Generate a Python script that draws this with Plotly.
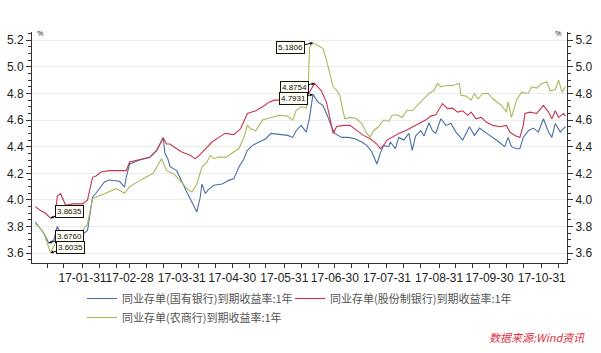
import plotly.graph_objects as go

# ---------------- data ----------------
blue_dates = ["2017-01-03","2017-01-05","2017-01-08","2017-01-11","2017-01-14","2017-01-16","2017-01-17","2017-01-19",
              "2017-01-25","2017-01-31","2017-02-03","2017-02-06","2017-02-08","2017-02-13","2017-02-16","2017-02-22",
              "2017-02-25","2017-02-26","2017-02-28","2017-03-06","2017-03-12","2017-03-16","2017-03-20","2017-03-21",
              "2017-03-23","2017-03-24","2017-03-28","2017-03-31","2017-04-03","2017-04-06","2017-04-09","2017-04-11",
              "2017-04-12","2017-04-14","2017-04-16","2017-04-19","2017-04-24","2017-04-28","2017-05-01","2017-05-04",
              "2017-05-07","2017-05-09","2017-05-12","2017-05-16","2017-05-20","2017-05-23","2017-05-28","2017-06-02",
              "2017-06-05","2017-06-07","2017-06-10","2017-06-13","2017-06-15","2017-06-17","2017-06-20","2017-06-23",
              "2017-06-26","2017-06-28","2017-06-30","2017-07-04","2017-07-08","2017-07-12","2017-07-16","2017-07-19",
              "2017-07-22","2017-07-25","2017-07-27","2017-07-29","2017-08-01","2017-08-02","2017-08-05","2017-08-07",
              "2017-08-10","2017-08-13","2017-08-15","2017-08-17","2017-08-20","2017-08-22","2017-08-25","2017-08-27",
              "2017-08-29","2017-09-01","2017-09-04","2017-09-07","2017-09-10","2017-09-14","2017-09-18","2017-09-21",
              "2017-09-24","2017-09-27","2017-09-30","2017-10-04","2017-10-09","2017-10-11","2017-10-13","2017-10-16",
              "2017-10-18","2017-10-20","2017-10-23","2017-10-26","2017-10-29","2017-11-01","2017-11-04","2017-11-06",
              "2017-11-08","2017-11-11","2017-11-13","2017-11-14"]
blue_vals = [3.834,3.80,3.75,3.676,3.70,3.80,3.78,3.73,
             3.74,3.74,3.77,4.02,4.05,4.135,4.15,4.14,
             4.097,4.17,4.27,4.30,4.32,4.37,4.47,4.35,
             4.30,4.25,4.22,4.135,4.06,3.985,3.91,4.02,
             4.12,4.047,4.08,4.11,4.12,4.147,4.16,4.247,
             4.31,4.373,4.41,4.435,4.46,4.50,4.49,4.485,
             4.47,4.52,4.56,4.51,4.62,4.7931,4.735,4.71,
             4.62,4.55,4.50,4.47,4.47,4.46,4.435,4.41,
             4.36,4.27,4.35,4.41,4.40,4.435,4.385,4.47,
             4.45,4.50,4.373,4.48,4.52,4.48,4.58,4.52,
             4.50,4.61,4.56,4.575,4.51,4.45,4.55,4.485,
             4.54,4.51,4.485,4.45,4.40,4.47,4.40,4.385,
             4.385,4.47,4.52,4.54,4.51,4.61,4.51,4.47,
             4.574,4.51,4.536,4.55]

red_dates = ["2017-01-03","2017-01-06","2017-01-09","2017-01-12","2017-01-15","2017-01-16","2017-01-18","2017-01-21",
             "2017-01-25","2017-01-31","2017-02-03","2017-02-06","2017-02-08","2017-02-11","2017-02-16","2017-02-26",
             "2017-02-28","2017-03-06","2017-03-12","2017-03-16","2017-03-20","2017-03-22","2017-03-24","2017-03-28",
             "2017-03-31","2017-04-05","2017-04-08","2017-04-10","2017-04-14","2017-04-18","2017-04-22","2017-04-26",
             "2017-05-01","2017-05-05","2017-05-09","2017-05-14","2017-05-18","2017-05-22","2017-05-25","2017-05-28",
             "2017-06-02","2017-06-07","2017-06-13","2017-06-18","2017-06-22","2017-06-25","2017-06-27","2017-06-29",
             "2017-07-01","2017-07-05","2017-07-09","2017-07-13","2017-07-17","2017-07-21","2017-07-25","2017-07-27",
             "2017-07-29","2017-07-31","2017-08-03","2017-08-07","2017-08-11","2017-08-15","2017-08-19","2017-08-23",
             "2017-08-26","2017-08-29","2017-09-02","2017-09-05","2017-09-08","2017-09-11","2017-09-14","2017-09-17",
             "2017-09-19","2017-09-22","2017-09-25","2017-09-28","2017-10-02","2017-10-06","2017-10-10","2017-10-12",
             "2017-10-15","2017-10-18","2017-10-20","2017-10-21","2017-10-24","2017-10-28","2017-11-01","2017-11-04",
             "2017-11-06","2017-11-08","2017-11-10","2017-11-13","2017-11-14"]
red_vals = [3.95,3.92,3.90,3.8635,3.88,4.03,4.047,3.96,
            3.97,3.97,4.00,4.17,4.18,4.21,4.22,4.22,
            4.285,4.30,4.32,4.37,4.465,4.42,4.42,4.385,
            4.36,4.335,4.31,4.33,4.385,4.435,4.47,4.50,
            4.49,4.535,4.65,4.67,4.70,4.735,4.75,4.75,
            4.74,4.76,4.77,4.8754,4.82,4.735,4.62,4.50,
            4.55,4.56,4.56,4.52,4.485,4.46,4.42,4.385,
            4.41,4.45,4.47,4.50,4.52,4.55,4.575,4.60,
            4.63,4.64,4.724,4.686,4.69,4.66,4.67,4.636,
            4.66,4.61,4.62,4.585,4.56,4.55,4.56,4.51,
            4.485,4.47,4.56,4.65,4.66,4.65,4.71,4.66,
            4.61,4.67,4.62,4.65,4.63]

green_dates = ["2017-01-03","2017-01-05","2017-01-08","2017-01-10","2017-01-12","2017-01-16","2017-01-19","2017-01-25",
               "2017-01-31","2017-02-03","2017-02-06","2017-02-08","2017-02-14","2017-02-20","2017-02-25","2017-02-28",
               "2017-03-08","2017-03-14","2017-03-19","2017-03-22","2017-03-26","2017-03-30","2017-04-03","2017-04-06",
               "2017-04-09","2017-04-12","2017-04-15","2017-04-17","2017-04-19","2017-04-22","2017-04-26","2017-04-30",
               "2017-05-04","2017-05-07","2017-05-09","2017-05-11","2017-05-14","2017-05-18","2017-05-23","2017-05-28",
               "2017-06-02","2017-06-05","2017-06-07","2017-06-10","2017-06-13","2017-06-14","2017-06-15","2017-06-17",
               "2017-06-20","2017-06-23","2017-06-25","2017-06-27","2017-06-29","2017-07-01","2017-07-03","2017-07-05",
               "2017-07-06","2017-07-09","2017-07-13","2017-07-16","2017-07-19","2017-07-21","2017-07-23","2017-07-26",
               "2017-07-29","2017-08-01","2017-08-03","2017-08-06","2017-08-09","2017-08-12","2017-08-15","2017-08-18",
               "2017-08-22","2017-08-25","2017-08-28","2017-08-30","2017-09-01","2017-09-04","2017-09-08","2017-09-12",
               "2017-09-13","2017-09-16","2017-09-19","2017-09-21","2017-09-23","2017-09-26","2017-09-29","2017-10-02",
               "2017-10-07","2017-10-10","2017-10-11","2017-10-13","2017-10-16","2017-10-19","2017-10-23","2017-10-25",
               "2017-10-28","2017-10-31","2017-11-03","2017-11-05","2017-11-08","2017-11-10","2017-11-12","2017-11-14"]
green_vals = [3.82,3.80,3.75,3.68,3.6035,3.70,3.74,3.75,
              3.77,3.82,4.01,4.02,4.05,4.085,4.05,4.10,
              4.16,4.20,4.31,4.22,4.197,4.147,4.085,4.06,
              4.12,4.247,4.285,4.335,4.31,4.323,4.32,4.35,
              4.386,4.473,4.56,4.535,4.52,4.60,4.62,4.636,
              4.63,4.60,4.674,4.70,4.69,4.77,5.15,5.1806,
              5.16,5.137,5.05,4.95,4.85,4.824,4.786,4.66,
              4.61,4.62,4.61,4.574,4.50,4.473,4.52,4.55,
              4.60,4.59,4.636,4.64,4.62,4.674,4.67,4.71,
              4.76,4.80,4.824,4.875,4.85,4.86,4.86,4.875,
              4.786,4.78,4.75,4.80,4.76,4.80,4.80,4.76,
              4.71,4.66,4.736,4.62,4.75,4.81,4.80,4.85,
              4.84,4.875,4.886,4.82,4.83,4.90,4.81,4.85]

series_names = ["同业存单(国有银行)到期收益率:1年",
                "同业存单(股份制银行)到期收益率:1年",
                "同业存单(农商行)到期收益率:1年"]
series_colors = ["#4a70a8", "#c8344e", "#a9b95a"]

x_label_dates = ["2017-01-31","2017-02-28","2017-03-31","2017-04-30","2017-05-31",
                 "2017-06-30","2017-07-31","2017-08-31","2017-09-30","2017-10-31"]
x_label_text = ["17-01-31","17-02-28","17-03-31","17-04-30","17-05-31",
                "17-06-30","17-07-31","17-08-31","17-09-30","17-10-31"]
x_minor_dates = [f"2017-{m:02d}-{d}" for m in range(1, 12) for d in (10, 20)]
y_tick_vals = [3.6, 3.8, 4.0, 4.2, 4.4, 4.6, 4.8, 5.0, 5.2]
y_tick_text = ["3.6", "3.8", "4.0", "4.2", "4.4", "4.6", "4.8", "5.0", "5.2"]

# annotated extremes: (date, value, label, box offset x, box offset y)
marks = [("2017-06-17", 5.1806, "5.1806", -22, 5),
         ("2017-06-18", 4.8754, "4.8754", -20, 4),
         ("2017-06-17", 4.7931, "4.7931", -19, 4),
         ("2017-01-12", 3.8635, "3.8635", 19, -7),
         ("2017-01-11", 3.6760, "3.6760", 21, -7),
         ("2017-01-12", 3.6035, "3.6035", 20, -5)]

# combined tick list: labelled month-ends plus unlabelled 10th/20th ticks
all_ticks = sorted([(d, t) for d, t in zip(x_label_dates, x_label_text)] +
                   [(d, "") for d in x_minor_dates])
tick_vals = [d for d, _ in all_ticks]
tick_text = [t for _, t in all_ticks]

# ---------------- figure ----------------
L, R, T, B, W, H = 32, 34, 32, 90, 601, 353
PW, PH = W - L - R, H - T - B

fig = go.Figure()
legend_of = ["legend", "legend2", "legend"]
for xs, ys, nm, col, lg in [(blue_dates, blue_vals, series_names[0], series_colors[0], legend_of[0]),
                            (red_dates, red_vals, series_names[1], series_colors[1], legend_of[1]),
                            (green_dates, green_vals, series_names[2], series_colors[2], legend_of[2])]:
    fig.add_trace(go.Scatter(x=xs, y=ys, name=nm, mode="lines", legend=lg,
                             line=dict(color=col, width=1.1), hoverinfo="skip"))

# invisible trace to carry the right-hand axis
fig.add_trace(go.Scatter(x=red_dates, y=red_vals, yaxis="y2", mode="lines",
                         line=dict(width=0), opacity=0, showlegend=False, hoverinfo="skip"))

yr = [3.526, 5.262]
axis_font = dict(family="Liberation Sans, Arial, sans-serif", size=12, color="#222222")
common_y = dict(range=yr, tickvals=y_tick_vals, ticktext=y_tick_text, ticks="outside",
                ticklen=5, tickcolor="#333333", showline=True, linecolor="#333333", linewidth=1,
                tickfont=axis_font, zeroline=False, automargin=False,
                minor=dict(dtick=0.05, ticks="outside", ticklen=3, tickcolor="#333333", showgrid=False))

legend_font = dict(family="Noto Sans CJK SC", size=11, color="#555555")
legend_y = -(284 - (H - B)) / PH

fig.update_layout(
    width=W, height=H,
    margin=dict(l=L, r=R, t=T, b=B, autoexpand=False),
    paper_bgcolor="white", plot_bgcolor="white",
    xaxis=dict(type="date", range=["2017-01-01", "2017-11-15"],
               tickmode="array", tickvals=tick_vals, ticktext=tick_text, tickangle=0,
               ticks="outside", ticklen=4, tickcolor="#333333",
               showline=True, linecolor="#333333", linewidth=1, automargin=False,
               showgrid=False, tickfont=axis_font, zeroline=False),
    yaxis=dict(**common_y, showgrid=True, gridcolor="#ececec", gridwidth=1, side="left"),
    yaxis2=dict(**common_y, overlaying="y", side="right", showgrid=False),
    legend=dict(orientation="v", x=(82 - L) / PW, xanchor="left", y=legend_y, yanchor="top",
                traceorder="normal", font=legend_font, tracegroupgap=0,
                bgcolor="rgba(0,0,0,0)"),
    legend2=dict(orientation="v", x=(290 - L) / PW, xanchor="left", y=legend_y, yanchor="top",
                 font=legend_font, bgcolor="rgba(0,0,0,0)"),
    showlegend=True,
)

for d, v, txt, ax, ay in marks:
    fig.add_annotation(x=d, y=v, xref="x", yref="y", text=txt, showarrow=True,
                       arrowhead=2, arrowsize=0.6, arrowwidth=1, arrowcolor="#111111",
                       ax=ax, ay=ay, bgcolor="#fffff4", bordercolor="#111111", borderwidth=1,
                       borderpad=1, font=dict(family="Liberation Sans, Arial", size=8, color="#111111"))

fig.add_annotation(x=0.006, y=1.0, xref="paper", yref="paper", text="%", showarrow=False,
                   xanchor="left", yanchor="middle", font=dict(size=8, color="#333333"))
fig.add_annotation(x=0.994, y=1.0, xref="paper", yref="paper", text="%", showarrow=False,
                   xanchor="right", yanchor="middle", font=dict(size=8, color="#333333"))
fig.add_annotation(x=(587 - L) / PW, y=((H - B) - 337) / PH, xref="paper", yref="paper",
                   text="<i>数据来源:Wind资讯</i>", showarrow=False, xanchor="right", yanchor="middle",
                   font=dict(family="Noto Sans CJK SC", size=11, color="#e0303c"))

fig.write_html("out.html")
